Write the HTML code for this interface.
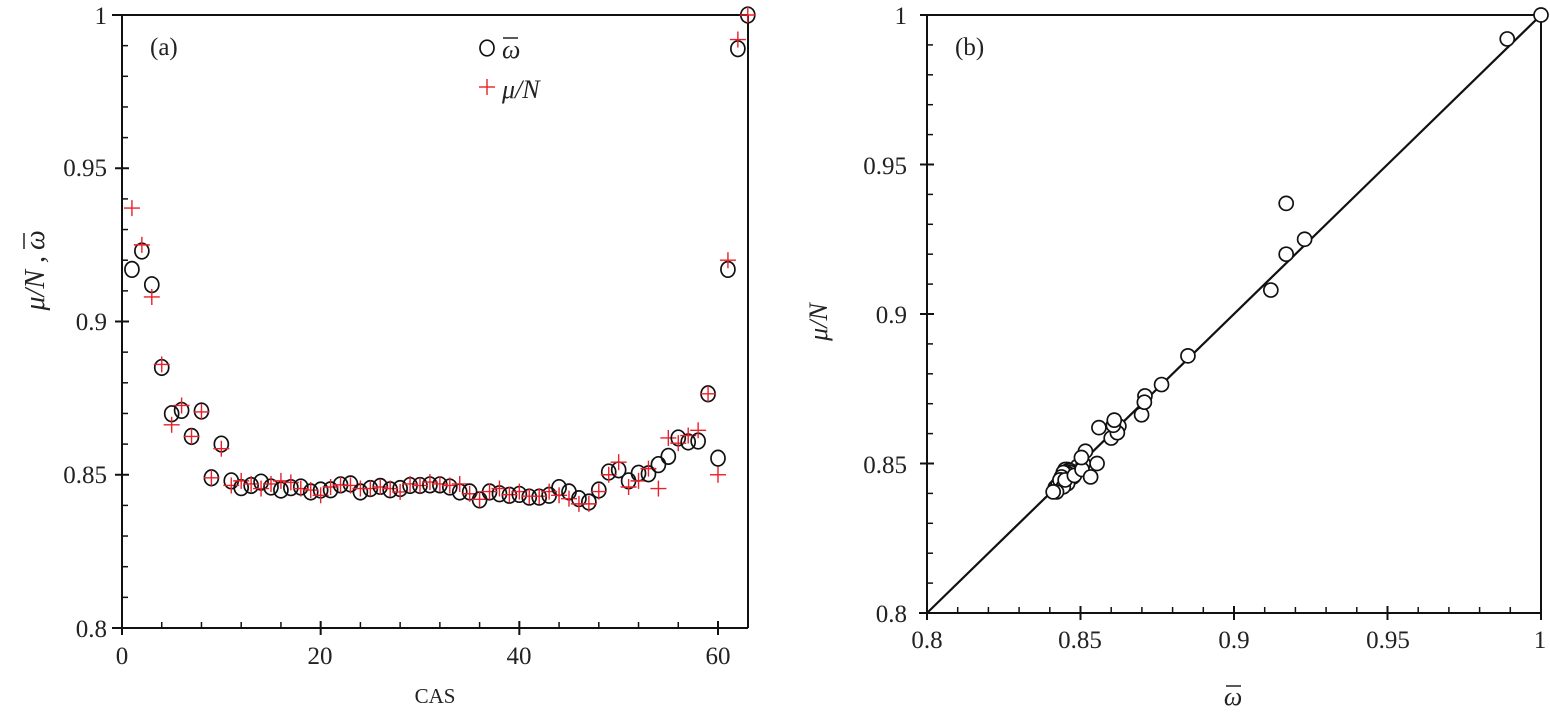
<!DOCTYPE html>
<html><head><meta charset="utf-8"><style>
html,body{margin:0;padding:0;background:#fff;}
svg{display:block;}
text{font-family:"Liberation Serif",serif;font-size:25px;fill:#222;}
.it{font-style:italic;}
</style></head><body>
<svg id="s" width="1550" height="717" viewBox="0 0 1550 717" xmlns="http://www.w3.org/2000/svg">
<g id="g"></g>
<text x="107" y="637" text-anchor="end">0.8</text>
<text x="107" y="483" text-anchor="end">0.85</text>
<text x="107" y="330" text-anchor="end">0.9</text>
<text x="107" y="176" text-anchor="end">0.95</text>
<text x="107" y="24" text-anchor="end">1</text>
<text x="122" y="664" text-anchor="middle">0</text>
<text x="320" y="664" text-anchor="middle">20</text>
<text x="519" y="664" text-anchor="middle">40</text>
<text x="718" y="664" text-anchor="middle">60</text>
<text x="435" y="703" text-anchor="middle" style="font-size:21px">CAS</text>
<g transform="translate(44,292) rotate(-90)">
<text x="36" y="0" text-anchor="end" class="it" style="font-size:28px">μ/N ,</text>
<text x="42" y="0" class="it" style="font-size:28px">ω</text>
<line x1="43" y1="-20" x2="59" y2="-20" stroke="#222" stroke-width="1.5"/>
</g>
<text x="150" y="55">(a)</text>
<text x="502" y="58" class="it" style="font-size:26px">ω</text>
<line x1="503" y1="38" x2="518" y2="38" stroke="#222" stroke-width="1.5"/>
<text x="502" y="98" class="it" style="font-size:26px">μ/N</text>
<text x="907" y="622" text-anchor="end">0.8</text>
<text x="907" y="473" text-anchor="end">0.85</text>
<text x="907" y="323" text-anchor="end">0.9</text>
<text x="907" y="174" text-anchor="end">0.95</text>
<text x="907" y="24" text-anchor="end">1</text>
<text x="927" y="648" text-anchor="middle">0.8</text>
<text x="1080" y="648" text-anchor="middle">0.85</text>
<text x="1234" y="648" text-anchor="middle">0.9</text>
<text x="1388" y="648" text-anchor="middle">0.95</text>
<text x="1540" y="648" text-anchor="middle">1</text>
<text x="1233" y="705" text-anchor="middle" class="it" style="font-size:26px">ω</text>
<line x1="1226" y1="686" x2="1241" y2="686" stroke="#222" stroke-width="1.5"/>
<text transform="translate(827,322) rotate(-90)" text-anchor="middle" class="it" style="font-size:26px">μ/N</text>
<text x="955" y="55">(b)</text>
</svg>
<script>
var om=[0.917,0.923,0.912,0.885,0.8699,0.871,0.8625,0.8708,0.849,0.860,0.848,0.8458,0.8465,0.8476,0.846,0.845,0.8458,0.846,0.8444,0.845,0.8451,0.8467,0.847,0.8444,0.8455,0.8462,0.8451,0.8455,0.8465,0.8465,0.8467,0.8467,0.846,0.8444,0.8444,0.8418,0.8444,0.8438,0.8433,0.8436,0.8427,0.8427,0.8433,0.8458,0.8444,0.8422,0.8411,0.845,0.8509,0.8516,0.848,0.8505,0.8503,0.8533,0.856,0.862,0.8607,0.861,0.8764,0.8554,0.917,0.989,1.0];
var mu=[0.937,0.925,0.908,0.886,0.8663,0.8726,0.8625,0.8705,0.849,0.8585,0.8465,0.848,0.847,0.8455,0.847,0.848,0.8475,0.8455,0.845,0.8433,0.846,0.8467,0.8465,0.8455,0.8455,0.846,0.8455,0.8444,0.847,0.8465,0.8476,0.847,0.8465,0.847,0.8438,0.842,0.8445,0.8455,0.8435,0.8445,0.843,0.843,0.8445,0.8433,0.8422,0.8405,0.8405,0.8445,0.850,0.8541,0.846,0.848,0.852,0.8455,0.862,0.8603,0.8628,0.8645,0.8764,0.850,0.920,0.992,1.0];
var h='';
function L(x1,y1,x2,y2,w,c){h+='<line x1="'+x1+'" y1="'+y1+'" x2="'+x2+'" y2="'+y2+'" stroke="'+(c||'#111')+'" stroke-width="'+(w||1.5)+'"/>';}
var ax0=122,ax1=748,ay0=628,ay1=15;
function AX(v){return ax0+v*(718-122)/60;}
function AY(v){return ay0-(v-0.8)*(ay0-ay1)/0.2;}
L(112,ay1,ax1,ay1,2);L(ax1,ay1,ax1,ay0,2);L(ax0,ay1,ax0,ay0,2);L(ax0,ay0,ax1,ay0,2);
for(var i=0;i<=20;i++){var y=AY(0.8+i*0.01);if(i%5==0)L(ax0-7,y,ax0+7,y,2);else L(ax0,y,ax0+6,y,1.5);}
for(var v=0;v<=63;v+=4){var x=AX(v);if(v%20==0)L(x,ay0-7,x,ay0+7,2);else L(x,ay0,x,ay0-6,1.5);}
L(112,ay0,ax0,ay0,2);
for(var i=0;i<63;i++){var x=AX(i+1);
 h+='<ellipse cx="'+x+'" cy="'+AY(om[i])+'" rx="7" ry="7.8" fill="none" stroke="#111" stroke-width="1.7"/>';
 var y=AY(mu[i]);L(x-8,y,x+8,y,1.4,'#e8202a');L(x,y-8,x,y+8,1.4,'#e8202a');}
h+='<ellipse cx="487" cy="48" rx="7" ry="7.8" fill="none" stroke="#111" stroke-width="1.7"/>';
L(479,87,495,87,1.4,'#e8202a');L(487,79,487,95,1.4,'#e8202a');
var bx0=927,bx1=1541,by0=613,by1=15;
function BX(v){return bx0+(v-0.8)*(bx1-bx0)/0.2;}
function BY(v){return by0-(v-0.8)*(by0-by1)/0.2;}
L(bx0,by1,bx1,by1,2);L(bx1,by1,bx1,by0,2);L(bx0,by1,bx0,by0,2);L(bx0-8,by0,bx1,by0,2);
for(var i=0;i<=20;i++){var y=BY(0.8+i*0.01);if(i%5==0)L(bx0-7,y,bx0+7,y,2);else L(bx0,y,bx0+6,y,1.5);
 var x=BX(0.8+i*0.01);if(i%5==0)L(x,by0-7,x,by0+7,2);else L(x,by0,x,by0-6,1.5);}
L(bx0,by0,bx1,by1,2.2);
for(var i=0;i<63;i++){h+='<circle cx="'+BX(om[i])+'" cy="'+BY(mu[i])+'" r="7" fill="#fff" stroke="#111" stroke-width="1.7"/>';}
document.getElementById('g').innerHTML=h;
</script>
</body></html>
